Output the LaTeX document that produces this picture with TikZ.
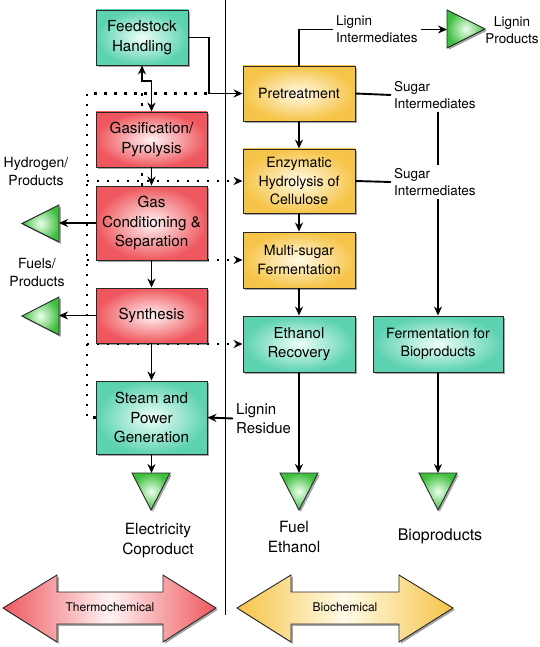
\documentclass[tikz,border=0pt]{standalone}
\usepackage{fontspec}
\setmainfont{TeX Gyre Heros}
\usetikzlibrary{arrows.meta,shadows,calc}
\pgfdeclarelayer{bg}
\pgfsetlayers{bg,main}
\definecolor{tealO}{RGB}{92,210,176}
\definecolor{tealI}{RGB}{238,255,250}
\definecolor{redO}{RGB}{238,88,94}
\definecolor{redI}{RGB}{255,243,243}
\definecolor{yelO}{RGB}{246,196,72}
\definecolor{yelI}{RGB}{255,251,232}
\definecolor{grnO}{RGB}{62,190,62}
\definecolor{grnI}{RGB}{236,255,236}
\definecolor{edgec}{RGB}{40,40,40}
\begin{document}
\begin{tikzpicture}[x=1pt,y=-1pt,
  shad/.style={drop shadow={shadow xshift=1.8pt,shadow yshift=-1.8pt,opacity=0.35,fill=black}},
  box/.style={draw=edgec, line width=0.9pt, minimum width=111pt, minimum height=55pt,
    inner sep=2pt, align=center, font=\fontsize{15.2}{19.5}\selectfont, shad},
  smalltext/.style={font=\fontsize{14.2}{18.5}\selectfont},
  tealbox/.style={box, inner color=tealI, outer color=tealO},
  redbox/.style={box, inner color=redI, outer color=redO},
  yelbox/.style={box, smalltext, inner color=yelI, outer color=yelO},
  tri/.style={draw=edgec, line width=0.9pt, inner color=grnI, outer color=grnO, shad},
  lab/.style={align=center, inner sep=3pt, font=\fontsize{13.5}{17}\selectfont},
  llab/.style={lab, align=left, anchor=west},
  biglab/.style={align=center, inner sep=2pt, font=\fontsize{15.5}{19.5}\selectfont},
  arrlab/.style={inner sep=1pt, font=\fontsize{12}{14}\selectfont},
  conn/.style={line width=1.9pt},
  arr/.style={conn, -{Stealth[length=9pt,width=8pt]}},
  darr/.style={conn, {Stealth[length=9pt,width=8pt]}-{Stealth[length=9pt,width=8pt]}},
  dotline/.style={line width=2.2pt, dash pattern=on 2.2pt off 7.8pt},
  dotarr/.style={dotline, -{Stealth[length=9pt,width=8pt]}}
]
\useasboundingbox (0,0) rectangle (540,647);

% divider
\draw[line width=0.9pt, black] (225,0) -- (225,615);

% thermochemical boxes
\node[tealbox, minimum width=92pt] (feed) at (142,37.5) {Feedstock\\Handling};
\node[redbox] (gas) at (151.5,139.5) {Gasification/\\Pyrolysis};
\node[redbox, minimum height=74pt] (cond) at (151.5,223) {Gas\\Conditioning \&\\Separation};
\node[redbox] (syn) at (151.5,315.5) {Synthesis};
\node[tealbox, minimum height=73pt] (steam) at (151.5,417.5) {Steam and\\Power\\Generation};

% biochemical boxes
\node[yelbox, minimum width=112pt] (pre) at (299,93.5) {Pretreatment};
\node[yelbox, minimum width=112pt, minimum height=64pt] (enz) at (299,181) {Enzymatic\\Hydrolysis of\\Cellulose};
\node[yelbox, minimum width=112pt, minimum height=56pt] (multi) at (299,260) {Multi-sugar\\Fermentation};
\node[tealbox, minimum width=112pt, minimum height=56pt, font=\fontsize{15}{19}\selectfont] (eth) at (299,344) {Ethanol\\Recovery};
\node[tealbox, smalltext, minimum width=130pt, minimum height=56pt] (ferm) at (438,344) {Fermentation for\\Bioproducts};

% product triangles
\path[tri] (447,10) -- (447,48) -- (485,29) -- cycle;
\coordinate (tL) at (447,29);
\path[tri] (59,205) -- (59,242) -- (22,223.5) -- cycle;
\coordinate (tH) at (59,223);
\path[tri] (59,297) -- (59,335) -- (22,316) -- cycle;
\coordinate (tF) at (59,315.5);
\path[tri] (132,473) -- (170,473) -- (151,510) -- cycle;
\coordinate (tE) at (151.5,473);
\path[tri] (280,473) -- (318,473) -- (299,510) -- cycle;
\coordinate (tFu) at (299,473);
\path[tri] (419,473) -- (457,473) -- (438,510) -- cycle;
\coordinate (tB) at (438,473);

% labels
\node[llab] (lint) at (333,29.5) {Lignin\\Intermediates};
\node[lab] (lprod) at (512,30) {Lignin\\Products};
\node[llab] (sint1) at (391,95) {Sugar\\Intermediates};
\node[llab] (sint2) at (391,182) {Sugar\\Intermediates};
\node[lab, font=\fontsize{14}{18}\selectfont] (hyd) at (36,172) {Hydrogen/\\Products};
\node[lab, font=\fontsize{14}{18}\selectfont] (fuel) at (37,273) {Fuels/\\Products};
\node[llab, font=\fontsize{15}{19}\selectfont] (lres) at (233,418.5) {Lignin\\Residue};
\node[biglab] (elec) at (158,540.5) {Electricity\\Coproduct};
\node[biglab] (fueleth) at (294,537) {Fuel\\Ethanol};
\node[biglab, font=\fontsize{16}{19.5}\selectfont] (biop) at (440,536) {Bioproducts};

% big process arrows
\path[draw=edgec, line width=0.9pt, left color=redO, right color=redO, middle color=redI, shad]
  (3,608) -- (57,575) -- (57,592) -- (163,592) -- (163,575) -- (216,608)
  -- (163,642) -- (163,624) -- (57,624) -- (57,642) -- cycle;
\node[arrlab] (thermo) at (110,607) {Thermochemical};
\path[draw=edgec, line width=0.9pt, left color=yelO, right color=yelO, middle color=yelI, shad]
  (237,608) -- (291,575) -- (291,592) -- (399,592) -- (399,575) -- (453,608)
  -- (399,642) -- (399,624) -- (291,624) -- (291,642) -- cycle;
\node[arrlab] (bio) at (345,607) {Biochemical};

% coordinates for dotted network
\coordinate (fk) at (209,93.5);
\coordinate (dv) at (87,93.5);

% dotted (heat and power) lines behind boxes
\begin{pgfonlayer}{bg}
\draw[dotline] (steam.west) -| (dv) -- (fk);
\draw[dotline] (dv -| feed.south) -- (cond.north -| feed.south);
\draw[dotarr] (dv |- enz.west) -- (enz.west);
\draw[dotarr] (dv |- multi.west) -- (multi.west);
\draw[dotarr] (dv |- eth.west) -- (eth.west);
\end{pgfonlayer}

% solid connectors, thermochemical
\draw[arr] (feed.east) -| (fk) -- (pre.west);
\draw[darr] (feed.south) -- ++(0,16) -| (gas.north);
\draw[arr] (gas.south) -- (cond.north);
\draw[arr] (cond.south) -- (syn.north);
\draw[arr] (syn.south) -- (steam.north);
\draw[arr] (cond.west) -- (tH);
\draw[arr] (syn.west) -- (tF);
\draw[arr] (steam.south) -- (tE);
\draw[arr] (lres.west) -- (steam.east);

% solid connectors, biochemical
\draw[arr] (pre.south) -- (enz.north);
\draw[arr] (enz.south) -- (multi.north);
\draw[arr] (multi.south) -- (eth.north);
\draw[arr] (eth.south) -- (tFu);
\draw[arr] (ferm.south) -- (tB);
\draw[conn] (pre.north) |- (lint.west);
\draw[arr] (lint.east) -- (lint.east -| tL);
\draw[conn] (pre.east) -- (sint1.west);
\draw[conn] (enz.east) -- (sint2.west);
\draw[conn] (sint1.south -| ferm.north) -- (sint2.north -| ferm.north);
\draw[arr] (sint2.south -| ferm.north) -- (ferm.north);
\end{tikzpicture}
\end{document}
